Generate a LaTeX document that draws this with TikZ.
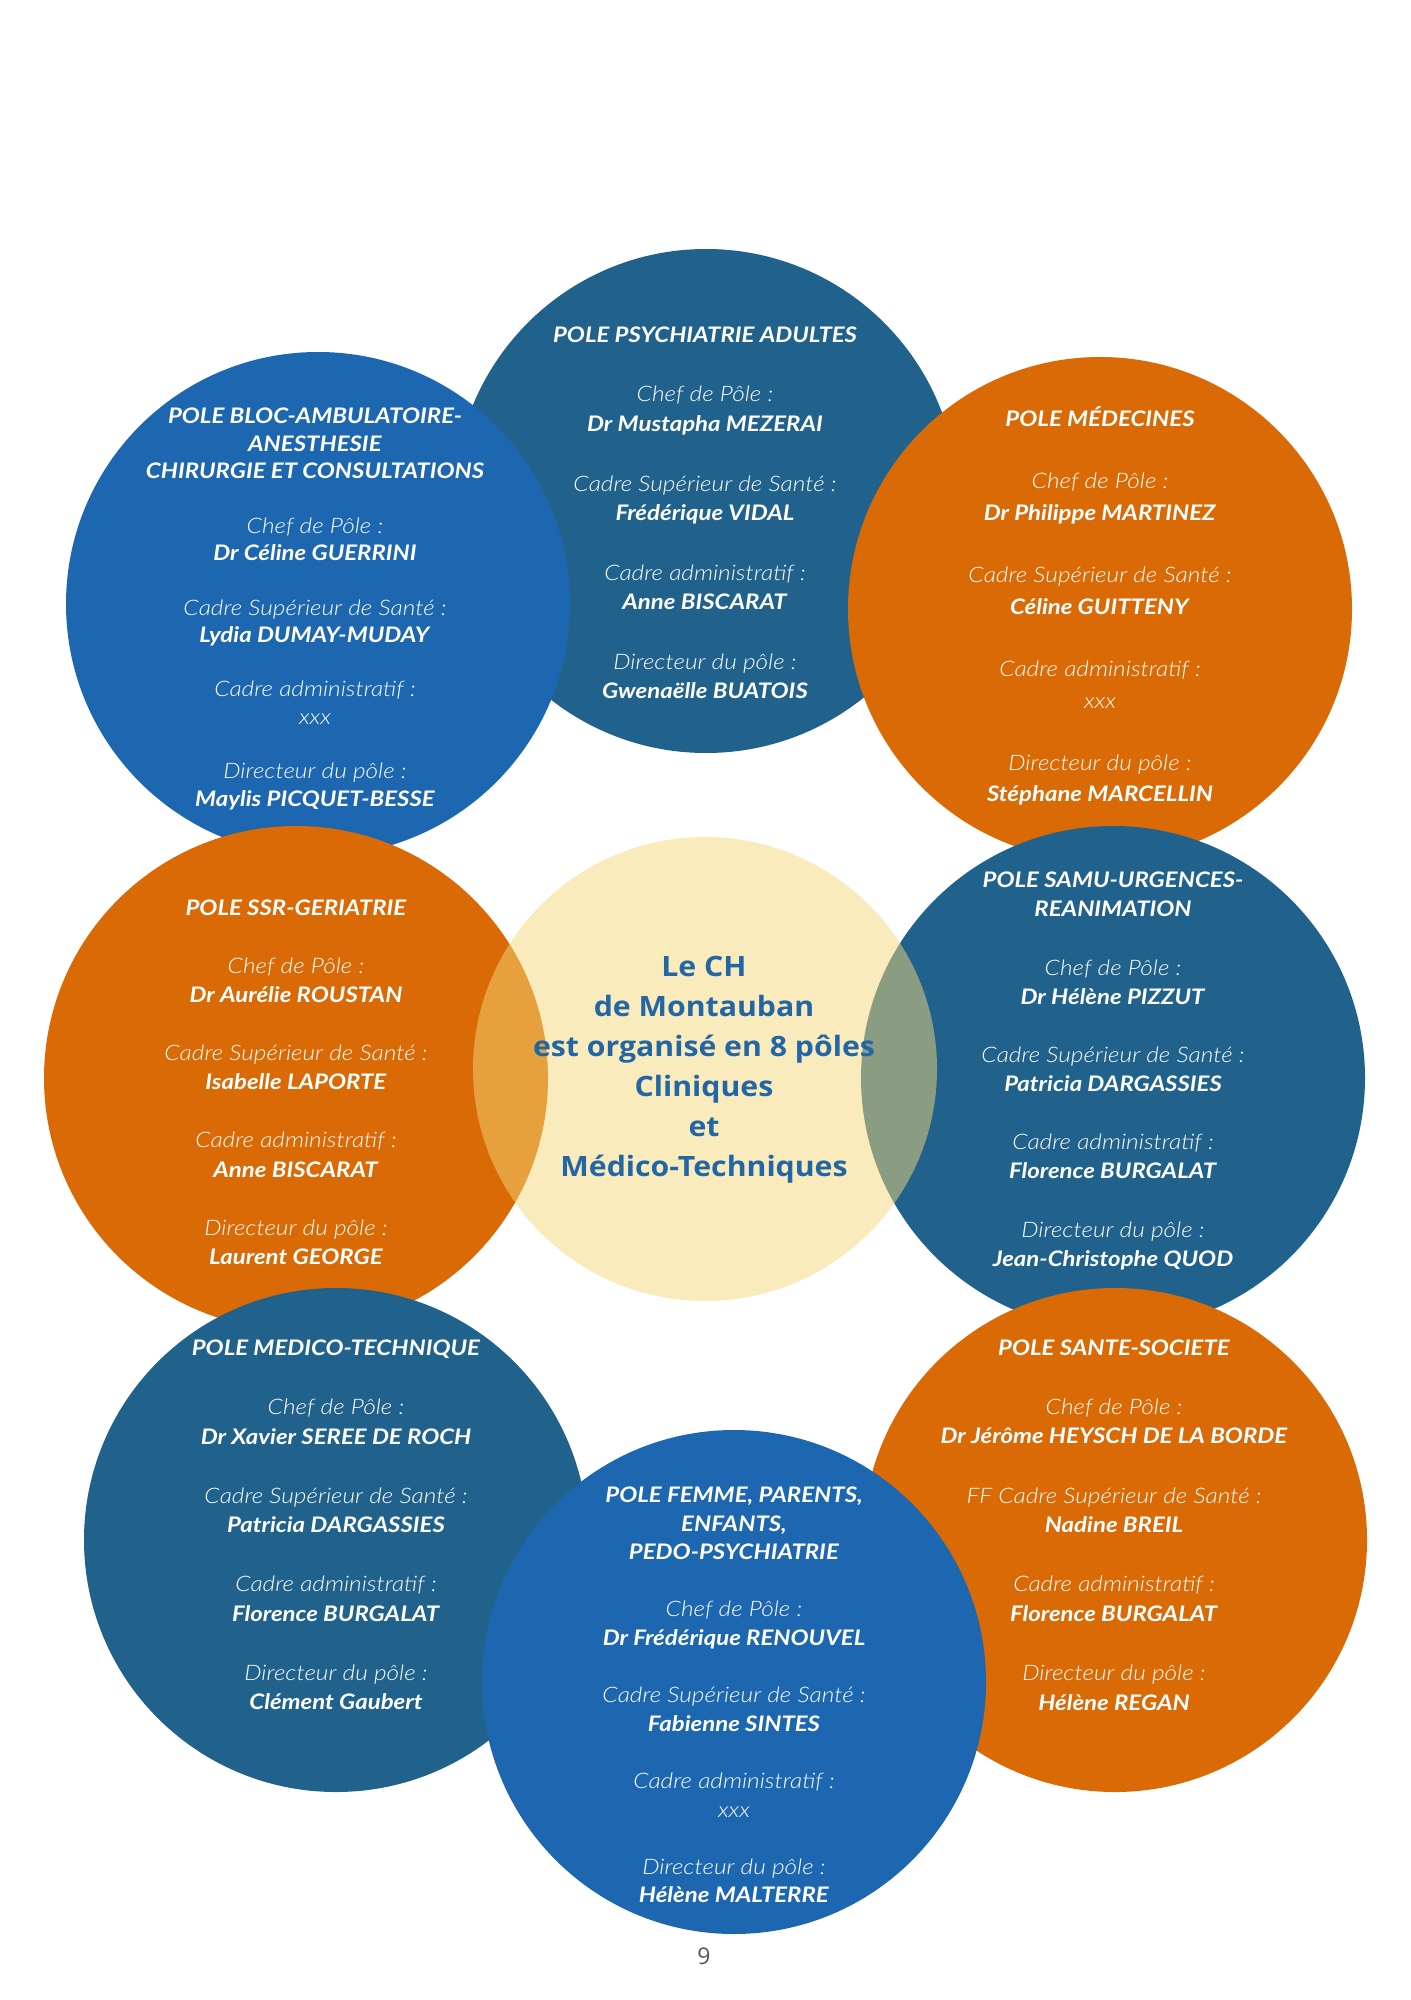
\documentclass[tikz,border=0pt]{standalone}
\usepackage{fontspec}
\setmainfont{Lato}[FakeStretch=1.12]
\newfontfamily\rolefont{Lato Light Italic}[FakeStretch=1.14]
\newfontfamily\centrefont{Open Sans}[FakeStretch=1.08]
\newfontfamily\pagefont{Open Sans}
\definecolor{poleblue}{RGB}{33,98,140}
\definecolor{polebright}{RGB}{29,102,176}
\definecolor{poleorange}{RGB}{217,106,6}
\definecolor{centreyellow}{RGB}{243,215,119}
\definecolor{centreink}{RGB}{35,102,166}
\definecolor{pagegray}{RGB}{85,85,85}
\newcommand{\polehead}[1]{\textbf{\textit{#1}}}
\newcommand{\polerole}[1]{{\rolefont #1}}
\newcommand{\polename}[1]{\textbf{\textit{#1}}}

\begin{document}
\begin{tikzpicture}[x=0.5pt, y=-0.5pt,
    pole/.style={circle, fill=#1, minimum size=252pt, inner sep=0pt},
    poletext/.style={text=white, align=center, inner sep=0pt,
                     font=\fontsize{10.7}{#1}\selectfont},
    poletext/.default=14.7pt,
    centre/.style={circle, fill=centreyellow, fill opacity=0.5,
                   minimum size=232pt, inner sep=0pt},
    centretext/.style={text=centreink, align=center, inner sep=0pt,
                       font=\centrefont\bfseries\fontsize{14}{20}\selectfont},
    pagenum/.style={text=pagegray, font=\pagefont\fontsize{11.5}{14}\selectfont}
]
\useasboundingbox (0,0) rectangle (1410,2000);

\node[pole=poleblue] (psy) at (706,501) {};
\node[poletext=14.85pt] (psyT) at (705,513) {%
  \polehead{POLE PSYCHIATRIE ADULTES}\\[\baselineskip]
  \polerole{Chef de Pôle :}\\ \polename{Dr Mustapha MEZERAI}\\[\baselineskip]
  \polerole{Cadre Supérieur de Santé :}\\ \polename{Frédérique VIDAL}\\[\baselineskip]
  \polerole{Cadre administratif :}\\ \polename{Anne BISCARAT}\\[\baselineskip]
  \polerole{Directeur du pôle :}\\ \polename{Gwenaëlle BUATOIS}};

\node[pole=polebright] (bloc) at (318,604) {};
\node[poletext=13.65pt] (blocT) at (315,609) {%
  \polehead{POLE BLOC-AMBULATOIRE-}\\ \polehead{ANESTHESIE}\\
  \polehead{CHIRURGIE ET CONSULTATIONS}\\[\baselineskip]
  \polerole{Chef de Pôle :}\\ \polename{Dr Céline GUERRINI}\\[\baselineskip]
  \polerole{Cadre Supérieur de Santé :}\\ \polename{Lydia DUMAY-MUDAY}\\[\baselineskip]
  \polerole{Cadre administratif :}\\ \polerole{xxx}\\[\baselineskip]
  \polerole{Directeur du pôle :}\\ \polename{Maylis PICQUET-BESSE}};

\node[pole=poleorange] (med) at (1100,609) {};
\node[poletext=15.65pt] (medT) at (1100,606) {%
  \polehead{POLE MÉDECINES}\\[\baselineskip]
  \polerole{Chef de Pôle :}\\ \polename{Dr Philippe MARTINEZ}\\[\baselineskip]
  \polerole{Cadre Supérieur de Santé :}\\ \polename{Céline GUITTENY}\\[\baselineskip]
  \polerole{Cadre administratif :}\\ \polerole{xxx}\\[\baselineskip]
  \polerole{Directeur du pôle :}\\ \polename{Stéphane MARCELLIN}};

\node[pole=poleorange] (ssr) at (296,1078) {};
\node[poletext=14.55pt] (ssrT) at (296,1082) {%
  \polehead{POLE SSR-GERIATRIE}\\[\baselineskip]
  \polerole{Chef de Pôle :}\\ \polename{Dr Aurélie ROUSTAN}\\[\baselineskip]
  \polerole{Cadre Supérieur de Santé :}\\ \polename{Isabelle LAPORTE}\\[\baselineskip]
  \polerole{Cadre administratif :}\\ \polename{Anne BISCARAT}\\[\baselineskip]
  \polerole{Directeur du pôle :}\\ \polename{Laurent GEORGE}};

\node[pole=poleblue] (samu) at (1113,1078) {};
\node[poletext=14.55pt] (samuT) at (1113,1071) {%
  \polehead{POLE SAMU-URGENCES-}\\ \polehead{REANIMATION}\\[\baselineskip]
  \polerole{Chef de Pôle :}\\ \polename{Dr Hélène PIZZUT}\\[\baselineskip]
  \polerole{Cadre Supérieur de Santé :}\\ \polename{Patricia DARGASSIES}\\[\baselineskip]
  \polerole{Cadre administratif :}\\ \polename{Florence BURGALAT}\\[\baselineskip]
  \polerole{Directeur du pôle :}\\ \polename{Jean-Christophe QUOD}};

\node[pole=poleblue] (mtech) at (336,1540) {};
\node[poletext=14.75pt] (mtechT) at (336,1525) {%
  \polehead{POLE MEDICO-TECHNIQUE}\\[\baselineskip]
  \polerole{Chef de Pôle :}\\ \polename{Dr Xavier SEREE DE ROCH}\\[\baselineskip]
  \polerole{Cadre Supérieur de Santé :}\\ \polename{Patricia DARGASSIES}\\[\baselineskip]
  \polerole{Cadre administratif :}\\ \polename{Florence BURGALAT}\\[\baselineskip]
  \polerole{Directeur du pôle :}\\ \polename{Clément Gaubert}};

\node[pole=poleorange] (soc) at (1115,1540) {};
\node[poletext=14.8pt] (socT) at (1114,1525) {%
  \polehead{POLE SANTE-SOCIETE}\\[\baselineskip]
  \polerole{Chef de Pôle :}\\ \polename{Dr Jérôme HEYSCH DE LA BORDE}\\[\baselineskip]
  \polerole{FF Cadre Supérieur de Santé :}\\ \polename{Nadine BREIL}\\[\baselineskip]
  \polerole{Cadre administratif :}\\ \polename{Florence BURGALAT}\\[\baselineskip]
  \polerole{Directeur du pôle :}\\ \polename{Hélène REGAN}};

\node[pole=polebright] (femme) at (734,1682) {};
\node[poletext=14.3pt] (femmeT) at (734,1695) {%
  \polehead{POLE FEMME, PARENTS,}\\ \polehead{ENFANTS,}\\
  \polehead{PEDO-PSYCHIATRIE}\\[\baselineskip]
  \polerole{Chef de Pôle :}\\ \polename{Dr Frédérique RENOUVEL}\\[\baselineskip]
  \polerole{Cadre Supérieur de Santé :}\\ \polename{Fabienne SINTES}\\[\baselineskip]
  \polerole{Cadre administratif :}\\ \polerole{xxx}\\[\baselineskip]
  \polerole{Directeur du pôle :}\\ \polename{Hélène MALTERRE}};

\node[centre] (ch) at (705,1069) {};
\node[centretext] (chT) at (704,1070) {Le CH\\ de Montauban\\ est organisé en 8 pôles\\
  Cliniques\\ et\\ Médico-Techniques};

\node[pagenum] (page) at (704,1956) {9};
\end{tikzpicture}
\end{document}
